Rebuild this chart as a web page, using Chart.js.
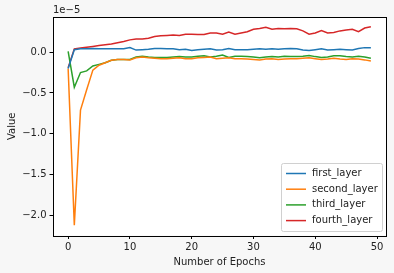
<!DOCTYPE html>
<html lang="en">
<head>
  <meta charset="UTF-8" />
  <title>Layer values per epoch</title>
  <script src="https://cdn.jsdelivr.net/npm/chart.js"></script>
  <style>
    html, body { margin: 0; padding: 0; background: #f7f7f7; }
    #wrap { position: relative; width: 394px; height: 273px; }
  </style>
</head>
<body>
  <div id="wrap"><canvas id="layerChart" width="394" height="273"></canvas></div>

  <script>
    // values are in units of 1e-5
    const epochs = Array.from({ length: 50 }, (_, i) => i);
    const seriesNames = ['first_layer', 'second_layer', 'third_layer', 'fourth_layer'];
    const seriesColors = ['#1f77b4', '#ff7f0e', '#2ca02c', '#d62728'];

    const firstLayer = [-0.20, 0.03, 0.04, 0.04, 0.045, 0.04, 0.04, 0.04, 0.04, 0.04,
      0.055, 0.025, 0.03, 0.035, 0.045, 0.045, 0.04, 0.04, 0.03, 0.035,
      0.02, 0.03, 0.035, 0.04, 0.025, 0.03, 0.045, 0.03, 0.03, 0.03,
      0.035, 0.04, 0.035, 0.04, 0.035, 0.04, 0.045, 0.04, 0.025, 0.02,
      0.03, 0.04, 0.025, 0.03, 0.035, 0.03, 0.025, 0.045, 0.055, 0.055];
    const secondLayer = [-0.20, -2.12, -0.71, -0.46, -0.22, -0.16, -0.13, -0.10, -0.09, -0.09,
      -0.095, -0.07, -0.06, -0.07, -0.075, -0.08, -0.08, -0.075, -0.07, -0.08,
      -0.08, -0.07, -0.065, -0.06, -0.08, -0.075, -0.07, -0.08, -0.08, -0.085,
      -0.09, -0.095, -0.085, -0.08, -0.09, -0.085, -0.08, -0.08, -0.075, -0.07,
      -0.08, -0.09, -0.085, -0.075, -0.085, -0.09, -0.08, -0.085, -0.095, -0.11];
    const thirdLayer = [0.01, -0.43, -0.25, -0.23, -0.17, -0.15, -0.13, -0.10, -0.09, -0.09,
      -0.09, -0.06, -0.05, -0.06, -0.065, -0.065, -0.065, -0.06, -0.055, -0.06,
      -0.06, -0.05, -0.045, -0.06, -0.05, -0.035, -0.065, -0.05, -0.05, -0.055,
      -0.06, -0.07, -0.06, -0.055, -0.06, -0.05, -0.055, -0.055, -0.05, -0.04,
      -0.055, -0.065, -0.06, -0.045, -0.045, -0.055, -0.06, -0.05, -0.06, -0.075];
    const fourthLayer = [-0.19, 0.04, 0.05, 0.06, 0.07, 0.08, 0.09, 0.10, 0.115, 0.13,
      0.15, 0.16, 0.16, 0.17, 0.19, 0.20, 0.205, 0.21, 0.205, 0.22,
      0.22, 0.215, 0.215, 0.235, 0.235, 0.22, 0.245, 0.22, 0.235, 0.25,
      0.28, 0.29, 0.305, 0.28, 0.29, 0.285, 0.29, 0.285, 0.26, 0.22,
      0.235, 0.265, 0.235, 0.24, 0.26, 0.27, 0.28, 0.25, 0.295, 0.31];

    const xTicks = [0, 10, 20, 30, 40, 50];
    const yTicks = [-2.0, -1.5, -1.0, -0.5, 0.0];

    const FONT = '"DejaVu Sans", sans-serif';
    const allSeries = [firstLayer, secondLayer, thirdLayer, fourthLayer];

    const datasets = allSeries.map((vals, k) => ({
      label: seriesNames[k],
      data: vals.map((v, i) => ({ x: epochs[i], y: v })),
      borderColor: seriesColors[k],
      backgroundColor: seriesColors[k],
      borderWidth: 1.5,
      pointRadius: 0,
      tension: 0,
      fill: false
    }));

    const fmt = v => v.toFixed(1).replace('-', '\u2212');

    // frame, offset text and legend, drawn like matplotlib does
    const mplExtras = {
      id: 'mplExtras',
      beforeDraw(chart) {
        const { ctx, chartArea: a } = chart;
        ctx.save();
        ctx.fillStyle = '#ffffff';
        ctx.fillRect(a.left, a.top, a.right - a.left, a.bottom - a.top);
        ctx.restore();
      },
      afterDraw(chart) {
        const { ctx, chartArea: a } = chart;
        ctx.save();
        ctx.strokeStyle = '#000';
        ctx.lineWidth = 1;
        ctx.strokeRect(Math.round(a.left) + 0.5, Math.round(a.top) + 0.5,
          Math.round(a.right - a.left), Math.round(a.bottom - a.top));

        ctx.fillStyle = '#222';
        ctx.font = '10px ' + FONT;
        ctx.textAlign = 'left';
        ctx.textBaseline = 'alphabetic';
        ctx.fillText('1e\u22125', a.left, a.top - 4);

        // legend
        const bx = 281, by = 163, bw = 101, bh = 68;
        ctx.fillStyle = 'rgba(255,255,255,0.8)';
        ctx.strokeStyle = '#d0d0d0';
        ctx.beginPath();
        ctx.roundRect(bx + 0.5, by + 0.5, bw, bh, 2);
        ctx.fill();
        ctx.stroke();
        chart.data.datasets.forEach((ds, k) => {
          const y = by + 10.5 + k * 15.7;
          ctx.strokeStyle = ds.borderColor;
          ctx.lineWidth = 1.5;
          ctx.beginPath();
          ctx.moveTo(bx + 5, y);
          ctx.lineTo(bx + 25, y);
          ctx.stroke();
          ctx.fillStyle = '#222';
          ctx.textBaseline = 'middle';
          ctx.fillText(ds.label, bx + 31, y);
        });
        ctx.restore();
      }
    };

    new Chart(document.getElementById('layerChart'), {
      type: 'line',
      data: { datasets },
      plugins: [mplExtras],
      options: {
        responsive: false,
        animation: false,
        layout: { padding: { left: 0, right: 8, top: 17, bottom: 0 } },
        plugins: { legend: { display: false }, tooltip: { enabled: false } },
        scales: {
          x: {
            type: 'linear',
            min: -2.45,
            max: 51.45,
            afterBuildTicks: s => { s.ticks = xTicks.map(v => ({ value: v })); },
            afterFit: s => { s.height = 37.5; },
            grid: { drawOnChartArea: false, drawTicks: true, tickLength: 3.5, color: '#000' },
            border: { display: false },
            ticks: { color: '#222', font: { family: FONT, size: 10 }, padding: 2, maxRotation: 0 },
            title: { display: true, text: 'Number of Epochs', color: '#222', font: { family: FONT, size: 10 }, padding: { top: 0, bottom: 5 } }
          },
          y: {
            min: -2.245,
            max: 0.43,
            afterBuildTicks: s => { s.ticks = yTicks.map(v => ({ value: v })); },
            afterFit: s => { s.width = 53; },
            grid: { drawOnChartArea: false, drawTicks: true, tickLength: 3.5, color: '#000' },
            border: { display: false },
            ticks: { color: '#222', font: { family: FONT, size: 10 }, padding: 3, callback: v => fmt(v) },
            title: { display: true, text: 'Value', color: '#222', font: { family: FONT, size: 10 }, padding: { top: 6, bottom: 2 } }
          }
        }
      }
    });
  </script>
</body>
</html>
